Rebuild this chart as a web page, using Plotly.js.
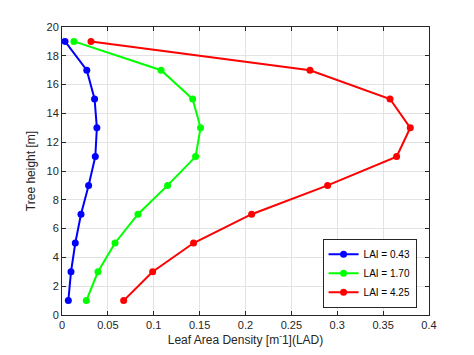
<!DOCTYPE html>
<html><head><meta charset="utf-8">
<script src="https://cdn.plot.ly/plotly-3.0.1.min.js"></script>
<style>body{margin:0;background:#fff}#c{width:474px;height:355px}</style>
</head><body><div id="c"></div>
<script>
const heights = [19, 17, 15, 13, 11, 9, 7, 5, 3, 1];
const ladLow = [0.0033, 0.027, 0.0355, 0.038, 0.0363, 0.029, 0.0207, 0.0145, 0.0098, 0.0069];
const ladMid = [0.013, 0.108, 0.1424, 0.151, 0.1456, 0.1151, 0.0828, 0.0578, 0.0392, 0.0265];
const ladHigh = [0.0316, 0.2703, 0.3575, 0.3796, 0.3647, 0.2895, 0.2067, 0.1434, 0.0988, 0.0672];
const seriesNames = ['LAI = 0.43', 'LAI = 1.70', 'LAI = 4.25'];
const colors = ['#0000ff', '#00ff00', '#ff0000'];
const xTicks = [0, 0.05, 0.1, 0.15, 0.2, 0.25, 0.3, 0.35, 0.4];
const yTicks = [0, 2, 4, 6, 8, 10, 12, 14, 16, 18, 20];

const data = [ladLow, ladMid, ladHigh].map((xs, i) => ({
  x: xs, y: heights, type: 'scatter', mode: 'lines+markers', name: seriesNames[i],
  line: {color: colors[i], width: 2},
  marker: {color: colors[i], size: 7, symbol: 'circle'}
}));

const axisCommon = {
  showline: true, mirror: 'ticks', linecolor: '#262626', linewidth: 1,
  ticks: 'inside', ticklen: 4, tickcolor: '#262626',
  showgrid: true, gridcolor: '#e3e3e3', gridwidth: 1, zeroline: false,
  tickfont: {family: 'Arial, Liberation Sans, sans-serif', size: 11, color: '#262626'}
};

const layout = {
  width: 474, height: 355,
  margin: {l: 62, r: 45, t: 27, b: 40},
  paper_bgcolor: '#fff', plot_bgcolor: '#fff',
  showlegend: true,
  xaxis: Object.assign({}, axisCommon, {
    range: [0, 0.4], tickvals: xTicks, ticktext: xTicks.map(String),
    title: {text: 'Leaf Area Density [m<sup>-</sup>1](LAD)', standoff: 4,
      font: {family: 'Arial, Liberation Sans, sans-serif', size: 12, color: '#262626'}}
  }),
  yaxis: Object.assign({}, axisCommon, {
    range: [0, 20], tickvals: yTicks, ticktext: yTicks.map(String),
    title: {text: 'Tree height [m]', standoff: 8,
      font: {family: 'Arial, Liberation Sans, sans-serif', size: 12, color: '#262626'}}
  }),
  legend: {
    x: 0.71, y: 0.265, xanchor: 'left', yanchor: 'top',
    bgcolor: '#fff', bordercolor: '#262626', borderwidth: 1,
    font: {family: 'Arial, Liberation Sans, sans-serif', size: 10, color: '#000'},
    tracegroupgap: 0, itemwidth: 30
  }
};
Plotly.newPlot('c', data, layout, {displayModeBar: false, staticPlot: true});
</script></body></html>
